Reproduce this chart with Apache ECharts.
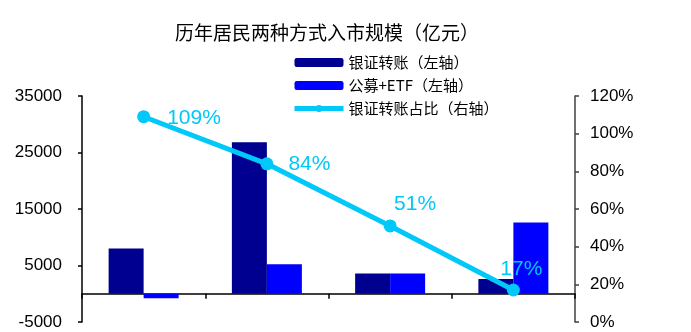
<!DOCTYPE html>
<html>
<head>
<meta charset="utf-8">
<script src="https://cdn.jsdelivr.net/npm/echarts@6/dist/echarts.min.js"></script>
<style>html,body{margin:0;padding:0;background:#fff;}#c{width:691px;height:332px;}</style>
</head>
<body>
<div id="c"></div>
<script>
var categories = ['2019', '2020', '2021', '2022'];
var bankTransfer = [8000, 26800, 3600, 2600];
var fundEtf = [-800, 5200, 3600, 12600];
var transferShare = [109, 84, 51, 17];
var leftTicks = [-5000, 5000, 15000, 25000, 35000];
var seriesNames = ['银证转账（左轴）', '公募+ETF（左轴）', '银证转账占比（右轴）'];

var labelPlace = [
  {position: 'right', distance: 17, offset: [0, 1]},
  {position: 'right', distance: 15, offset: [0, 0]},
  {position: 'top', distance: 5, offset: [25, 0]},
  {position: 'top', distance: 4, offset: [8, 0]}
];
var lineData = transferShare.map(function (v, i) {
  return {value: v, label: labelPlace[i]};
});

var chart = echarts.init(document.getElementById('c'), null, {renderer: 'canvas'});
chart.setOption({
  animation: false,
  backgroundColor: '#ffffff',
  title: {
    text: '历年居民两种方式入市规模（亿元）',
    left: 175, top: 23, padding: 0,
    textStyle: {fontFamily: 'Noto Sans CJK SC', fontSize: 19, fontWeight: 'normal', color: '#000'}
  },
  legend: {
    orient: 'vertical', left: 292, top: 55, padding: 0,
    itemWidth: 49, itemHeight: 9, itemGap: 8,
    textStyle: {fontFamily: 'Noto Sans CJK SC', fontSize: 15, color: '#000'},
    data: [
      {name: seriesNames[0]},
      {name: seriesNames[1]},
      {name: seriesNames[2], lineStyle: {width: 5}}
    ]
  },
  grid: {left: 82, right: 116, top: 96, bottom: 10, containLabel: false},
  xAxis: {
    type: 'category', data: categories,
    axisLine: {onZero: true, onZeroAxisIndex: 0, lineStyle: {color: '#000', width: 1.5}},
    axisTick: {show: true, length: 5, lineStyle: {color: '#000', width: 1.5}},
    axisLabel: {show: false}
  },
  yAxis: [{
    type: 'value', min: -5000, max: 35000, interval: 5000,
    axisLine: {show: true, lineStyle: {color: '#000', width: 1.5}},
    axisTick: {show: true, length: 4, customValues: leftTicks, lineStyle: {color: '#000', width: 1.5}},
    axisLabel: {customValues: leftTicks, margin: 20, fontFamily: 'Liberation Sans', fontSize: 17, color: '#000',
      formatter: function (v) { return String(v); }},
    splitLine: {show: false}
  }, {
    type: 'value', min: 0, max: 120, interval: 20,
    axisLine: {show: true, lineStyle: {color: '#404040', width: 1.5}},
    axisTick: {show: true, length: 4, lineStyle: {color: '#404040', width: 1.5}},
    axisLabel: {formatter: '{value}%', margin: 15, fontFamily: 'Liberation Sans', fontSize: 17, color: '#000'},
    splitLine: {show: false}
  }],
  series: [{
    name: seriesNames[0], type: 'bar', data: bankTransfer,
    barWidth: 35, barGap: '0%',
    itemStyle: {color: '#000090'}
  }, {
    name: seriesNames[1], type: 'bar', data: fundEtf,
    barWidth: 35, barGap: '0%',
    itemStyle: {color: '#0000FF'}
  }, {
    name: seriesNames[2], type: 'line', yAxisIndex: 1, data: lineData,
    symbol: 'circle', symbolSize: 13, z: 5,
    lineStyle: {color: '#00C8F8', width: 5},
    itemStyle: {color: '#00C8F8'},
    label: {show: true, formatter: '{c}%', color: '#00C8F8', fontFamily: 'Liberation Sans', fontSize: 21}
  }]
});
</script>
</body>
</html>
